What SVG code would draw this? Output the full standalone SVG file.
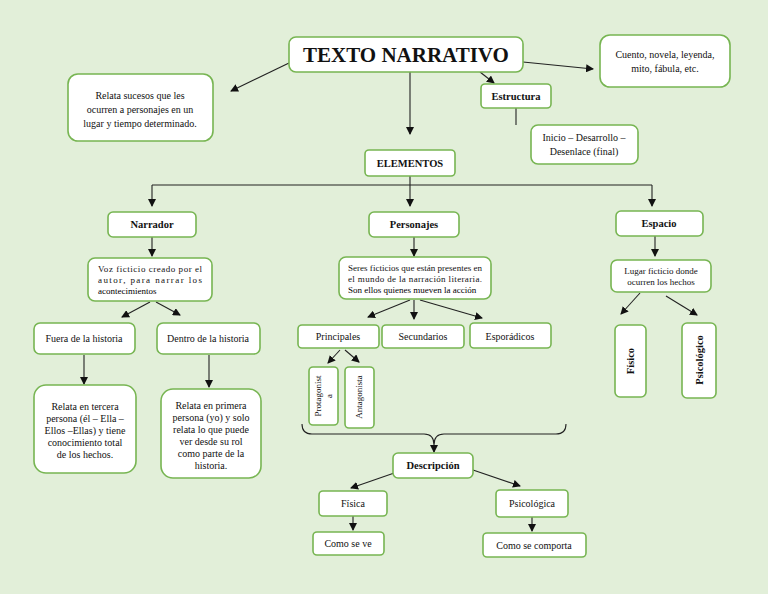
<svg xmlns="http://www.w3.org/2000/svg" width="768" height="594" viewBox="0 0 768 594" font-family="'Liberation Serif', 'Times New Roman', serif">
<defs>
<marker id="a" markerWidth="8" markerHeight="8" refX="7" refY="4" orient="auto" markerUnits="userSpaceOnUse"><path d="M0,0 L8,4 L0,8 z" fill="#111"/></marker>
<style>
.b{fill:#fff;stroke:#77b552;stroke-width:1.6}
text{font-family:'Liberation Serif','Times New Roman',serif}
.t{font-size:10px;fill:#111;text-anchor:middle}
.h{font-weight:bold;font-size:10.5px}
.c line,.c path{stroke:#222;stroke-width:1.1;fill:none}
.c line{marker-end:url(#a)}
</style>
</defs>
<rect width="768" height="594" fill="#e2efd9"/>
<g class="c" id="connectors">
<line x1="289" y1="63" x2="231" y2="91"/>
<line x1="410" y1="72" x2="410" y2="134"/>
<line x1="480" y1="72" x2="494" y2="83"/>
<line x1="523" y1="62" x2="593" y2="69"/>
<line x1="516" y1="108" x2="516" y2="125" style="marker-end:none"/>
<path d="M410,176 V185 M152,185 H652"/>
<line x1="152" y1="185" x2="152" y2="206"/>
<line x1="410" y1="185" x2="410" y2="206"/>
<line x1="652" y1="185" x2="652" y2="206"/>
<line x1="152" y1="237" x2="152" y2="256"/>
<line x1="414" y1="237" x2="414" y2="256"/>
<line x1="655" y1="236" x2="655" y2="256"/>
<line x1="150" y1="302" x2="122" y2="317"/>
<line x1="156" y1="302" x2="180" y2="315"/>
<line x1="84" y1="355" x2="84" y2="384"/>
<line x1="209" y1="355" x2="209" y2="387"/>
<line x1="410" y1="300" x2="368" y2="317"/>
<line x1="414" y1="300" x2="414" y2="319"/>
<line x1="420" y1="300" x2="482" y2="318"/>
<line x1="340" y1="350" x2="328" y2="363"/>
<line x1="345" y1="350" x2="359" y2="362"/>
<path d="M302,424 Q302,434 312,434 H424 Q434,434 434,445 Q434,434 444,434 H556 Q566,434 566,424" stroke-width="2"/>
<line x1="434" y1="445" x2="434" y2="452"/>
<line x1="400" y1="471" x2="351" y2="488"/>
<line x1="473" y1="470" x2="520" y2="486"/>
<line x1="353" y1="516" x2="353" y2="530"/>
<line x1="532" y1="517" x2="532" y2="531"/>
<line x1="640" y1="293" x2="621" y2="314"/>
<line x1="666" y1="296" x2="697" y2="315"/>
</g>
<g id="title"><rect class="b" x="289" y="37" width="234" height="35" rx="7"/><text class="t" x="406" y="62" style="font-size:21px;font-weight:bold">TEXTO NARRATIVO</text></g>
<g id="tipos"><rect class="b" x="600" y="35" width="130" height="52" rx="10"/><text class="t" x="665" y="58">Cuento, novela, leyenda,</text><text class="t" x="665" y="72">mito, fábula, etc.</text></g>
<g id="relata"><rect class="b" x="68" y="74" width="145" height="67" rx="10"/><text class="t" x="140" y="99">Relata sucesos que les</text><text class="t" x="140" y="113">ocurren a personajes en un</text><text class="t" x="140" y="127">lugar y tiempo determinado.</text></g>
<g id="estructura"><rect class="b" x="481" y="84" width="70" height="24" rx="4"/><text class="t h" x="516" y="100">Estructura</text></g>
<g id="inicio"><rect class="b" x="531" y="125" width="107" height="39" rx="7"/><text class="t" x="584" y="141">Inicio – Desarrollo –</text><text class="t" x="584" y="155">Desenlace (final)</text></g>
<g id="elementos"><rect class="b" x="365" y="150" width="90" height="26" rx="4"/><text class="t h" x="410" y="167">ELEMENTOS</text></g>
<g id="narrador"><rect class="b" x="108" y="212" width="88" height="25" rx="5"/><text class="t h" x="152" y="228">Narrador</text></g>
<g id="personajes"><rect class="b" x="369" y="212" width="90" height="25" rx="5"/><text class="t h" x="414" y="228">Personajes</text></g>
<g id="espacio"><rect class="b" x="616" y="211" width="87" height="25" rx="5"/><text class="t h" x="659" y="227">Espacio</text></g>
<g id="voz"><rect class="b" x="88" y="258" width="124" height="43" rx="7"/><text class="t" x="150" y="272" style="font-size:9px" textLength="104">Voz ficticio creado por el</text><text class="t" x="150" y="283" style="font-size:9px" textLength="104">autor, para narrar los</text><text x="98" y="294" style="font-size:9px">acontecimientos</text></g>
<g id="seres"><rect class="b" x="339" y="257" width="152" height="42" rx="7"/><text class="t" x="415" y="271" style="font-size:9px" textLength="134">Seres ficticios que están presentes en</text><text class="t" x="415" y="282" style="font-size:9px" textLength="134">el mundo de la narración literaria.</text><text x="348" y="293" style="font-size:9px">Son ellos quienes mueven la acción</text></g>
<g id="lugar"><rect class="b" x="611" y="260" width="100" height="32" rx="6"/><text class="t" x="661" y="274" style="font-size:9px">Lugar ficticio donde</text><text class="t" x="661" y="285" style="font-size:9px">ocurren los hechos</text></g>
<g id="fuera"><rect class="b" x="34" y="323" width="101" height="31" rx="6"/><text class="t" x="84" y="342">Fuera de la historia</text></g>
<g id="dentro"><rect class="b" x="157" y="323" width="103" height="31" rx="6"/><text class="t" x="208" y="342">Dentro de la historia</text></g>
<g id="tercera"><rect class="b" x="34" y="385" width="102" height="88" rx="12"/><text class="t" x="85" y="410">Relata en tercera</text><text class="t" x="85" y="422">persona (él – Ella –</text><text class="t" x="85" y="434">Ellos –Ellas) y tiene</text><text class="t" x="85" y="446">conocimiento total</text><text class="t" x="85" y="458">de los hechos.</text></g>
<g id="primera"><rect class="b" x="161" y="389" width="100" height="89" rx="12"/><text class="t" x="211" y="409">Relata en primera</text><text class="t" x="211" y="421">persona (yo) y solo</text><text class="t" x="211" y="433">relata lo que puede</text><text class="t" x="211" y="445">ver desde su rol</text><text class="t" x="211" y="457">como parte de la</text><text class="t" x="211" y="469">historia.</text></g>
<g id="principales"><rect class="b" x="298" y="325" width="81" height="23" rx="4"/><text class="t" x="338" y="340">Principales</text></g>
<g id="secundarios"><rect class="b" x="382" y="325" width="82" height="23" rx="4"/><text class="t" x="423" y="340">Secundarios</text></g>
<g id="esporadicos"><rect class="b" x="470" y="323" width="81" height="25" rx="4"/><text class="t" x="510" y="340">Esporádicos</text></g>
<g id="protagonista"><rect class="b" x="309" y="367" width="29" height="58" rx="4"/><text class="t" transform="translate(321,396) rotate(-90)" style="font-size:9px">Protagonist</text><text class="t" transform="translate(332,396) rotate(-90)" style="font-size:9px">a</text></g>
<g id="antagonista"><rect class="b" x="345" y="367" width="29" height="61" rx="4"/><text class="t" transform="translate(362,397) rotate(-90)" style="font-size:9px">Antagonista</text></g>
<g id="descripcion"><rect class="b" x="393" y="453" width="80" height="25" rx="5"/><text class="t h" x="433" y="469">Descripción</text></g>
<g id="fisica"><rect class="b" x="319" y="491" width="68" height="25" rx="4"/><text class="t" x="353" y="507">Física</text></g>
<g id="psicologica"><rect class="b" x="496" y="490" width="72" height="27" rx="4"/><text class="t" x="532" y="507">Psicológica</text></g>
<g id="comove"><rect class="b" x="313" y="532" width="71" height="23" rx="4"/><text class="t" x="348" y="547">Como se ve</text></g>
<g id="comporta"><rect class="b" x="483" y="533" width="103" height="24" rx="4"/><text class="t" x="534" y="549">Como se comporta</text></g>
<g id="fisico"><rect class="b" x="615" y="325" width="31" height="72" rx="5"/><text class="t h" transform="translate(634,361) rotate(-90)">Físico</text></g>
<g id="psicologico"><rect class="b" x="682" y="323" width="34" height="75" rx="5"/><text class="t h" transform="translate(703,360) rotate(-90)">Psicológico</text></g>
</svg>
